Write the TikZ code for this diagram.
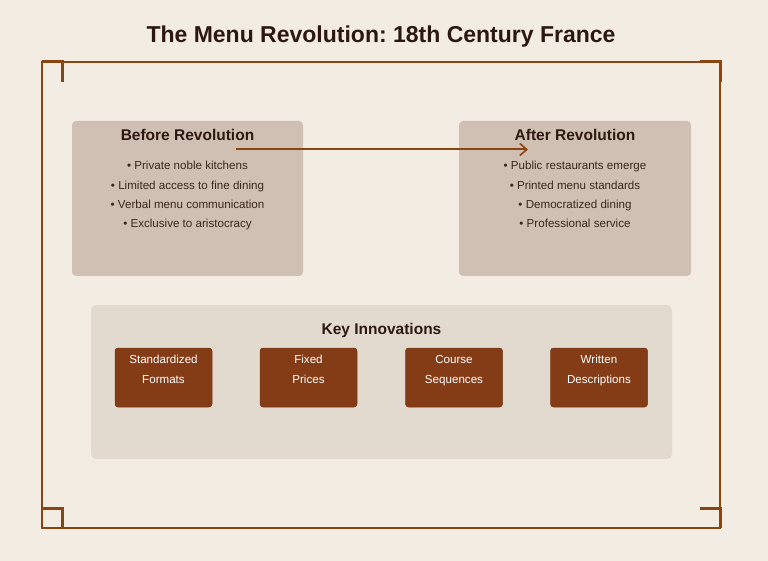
\documentclass[tikz,border=0pt]{standalone}
\usepackage{fontspec}
\setmainfont{Liberation Sans}
\usetikzlibrary{arrows.meta}
\definecolor{bg}{RGB}{243,236,226}
\definecolor{brownline}{RGB}{139,69,19}
\definecolor{panel}{RGB}{208,191,179}
\definecolor{keypanel}{RGB}{227,218,207}
\definecolor{boxfill}{RGB}{132,60,22}
\definecolor{ink}{RGB}{44,24,16}
\definecolor{inktext}{RGB}{58,38,28}
\tikzset{
  panelbox/.style={fill=panel, rounded corners=4pt},
  panelhead/.style={font=\fontsize{15.5}{18}\selectfont\bfseries, text=ink, anchor=base},
  item/.style={font=\fontsize{11.6}{13}\selectfont, text=inktext, anchor=base},
  innov/.style={fill=boxfill, draw=boxfill!90!black, line width=0.5pt, rounded corners=3pt, minimum width=97pt, minimum height=59pt},
  innovtext/.style={font=\fontsize{11.6}{13}\selectfont, text=white, anchor=base},
  cornermark/.style={draw=brownline, line width=3pt},
}
\begin{document}
\frenchspacing
\begin{tikzpicture}[x=1pt,y=-1pt]
\useasboundingbox[fill=bg] (0,0) rectangle (768,561);
\node[font=\fontsize{23}{27}\selectfont\bfseries, text=ink, anchor=base] (title) at (381,42.7) {The Menu Revolution: 18th Century France};
\draw[brownline, line width=2pt] (42,62) rectangle (720,528);
\draw[cornermark] (42,62) -- (62,62) -- (62,82);
\draw[cornermark] (700,62) -- (720,62) -- (720,82);
\draw[cornermark] (42,508) -- (62,508) -- (62,528);
\draw[cornermark] (700,508) -- (720,508) -- (720,528);
% before/after panels
\path[panelbox] (72,121) rectangle (303,276);
\path[panelbox] (459,121) rectangle (691,276);
\node[panelhead] (beforeh) at (187.5,140.7) {Before Revolution};
\node[item] (b1) at (187.5,170) {• Private noble kitchens};
\node[item] (b2) at (187.5,189.3) {• Limited access to fine dining};
\node[item] (b3) at (187.5,208.6) {• Verbal menu communication};
\node[item] (b4) at (187.5,228) {• Exclusive to aristocracy};
\node[panelhead] (afterh) at (575,140.7) {After Revolution};
\node[item] (a1) at (575,170) {• Public restaurants emerge};
\node[item] (a2) at (575,189.3) {• Printed menu standards};
\node[item] (a3) at (575,208.6) {• Democratized dining};
\node[item] (a4) at (575,228) {• Professional service};
\coordinate (arrS) at (236,149.5);
\coordinate (arrE) at (528,149.5);
\draw[brownline, line width=2pt, -{Straight Barb[length=7pt,width=12pt,line width=1.6pt]}] (arrS) -- (arrE);
% key innovations
\path[fill=keypanel, rounded corners=5pt] (91,305) rectangle (672,459);
\node[panelhead] (keyh) at (381.5,334) {Key Innovations};
\node[innov] (k1) at (163.5,377.5) {};
\node[innov] (k2) at (308.5,377.5) {};
\node[innov] (k3) at (454,377.5) {};
\node[innov] (k4) at (599,377.5) {};
\node[innovtext] at (163.5,363.3) {Standardized};
\node[innovtext] at (163.5,383) {Formats};
\node[innovtext] at (308.5,363.3) {Fixed};
\node[innovtext] at (308.5,383) {Prices};
\node[innovtext] at (454,363.3) {Course};
\node[innovtext] at (454,383) {Sequences};
\node[innovtext] at (599,363.3) {Written};
\node[innovtext] at (599,383) {Descriptions};
\end{tikzpicture}
\end{document}
